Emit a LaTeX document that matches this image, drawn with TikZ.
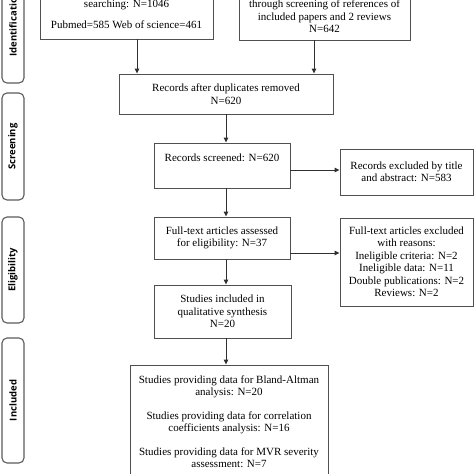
\documentclass[tikz,border=0pt]{standalone}
\usepackage{fontspec}
\setmainfont{Liberation Serif}
\newfontfamily\labfont{Open Sans}
\usetikzlibrary{arrows.meta}
\definecolor{boxgray}{HTML}{505050}
\definecolor{linegray}{HTML}{303030}
\definecolor{sidegray}{HTML}{5A5A5A}
\begin{document}
\begin{tikzpicture}[x=1pt,y=-1pt,
  box/.style={draw=boxgray, line width=0.9pt, inner sep=0pt, align=center,
    font=\fontsize{11}{12.5}\selectfont},
  txt/.style={inner sep=0pt, align=center, font=\fontsize{11}{12.5}\selectfont},
  side/.style={draw=sidegray, line width=1.1pt, rounded corners=5pt, rotate=90,
    inner sep=0pt, font=\labfont\bfseries\fontsize{9.5}{11}\selectfont},
  arr/.style={draw=linegray, line width=0.9pt, -{Triangle[length=5pt,width=4.5pt]}}]
\useasboundingbox (0,0) rectangle (474,474);
\clip (0,0) rectangle (474,474);

% side phase labels
\node[side, minimum width=118pt, minimum height=22pt] (sid) at (13,24) {Identification};
\node[side, minimum width=107pt, minimum height=22pt] (ssc) at (13,146.5) {Screening};
\node[side, minimum width=106pt, minimum height=22pt] (sel) at (13,270) {Eligibility};
\node[side, minimum width=125pt, minimum height=22pt] (sin) at (13,400.5) {Included};

% top boxes (cut at the top edge)
\node[box, minimum width=173pt, minimum height=79pt] (tl) at (126.5,-0.5) {};
\node[txt] (tltext) at (126.5,14.5) {searching: N=1046\\[8.5pt]Pubmed=585 Web of science=461};
\node[box, minimum width=171pt, minimum height=80pt] (tr) at (324.5,0) {};
\node[txt] (trtext) at (324.5,16.5) {through screening of references of\\included papers and 2 reviews\\N=642};

% main flow
\node[box, minimum width=214pt, minimum height=40pt] (dup) at (226,94)
  {Records after duplicates removed\\N=620};
\node[box, minimum width=136pt, minimum height=45pt] (scr) at (222,165.5)
  {Records screened: N=620\\\strut};
\node[box, minimum width=133pt, minimum height=46pt] (exc1) at (406.5,172)
  {Records excluded by title\\and abstract: N=583};
\node[box, minimum width=136pt, minimum height=42pt] (ftx) at (222,238)
  {Full-text articles assessed\\for eligibility: N=37};
\node[box, minimum width=133pt, minimum height=88pt] (exc2) at (406.5,262)
  {Full-text articles excluded\\with reasons:\\Ineligible criteria: N=2\\Ineligible data: N=11\\Double publications: N=2\\Reviews: N=2};
\node[box, minimum width=137pt, minimum height=53pt] (inc) at (222.5,311.5)
  {Studies included in\\qualitative synthesis\\N=20};
\node[box, minimum width=198pt, minimum height=113pt] (fin) at (229,421.5)
  {Studies providing data for Bland-Altman\\analysis: N=20\\[11pt]Studies providing data for correlation\\coefficients analysis: N=16\\[11pt]Studies providing data for MVR severity\\assessment: N=7};

% connectors
\draw[arr] ([xshift=10.5pt]tl.south) -- ([xshift=10.5pt]tl.south |- dup.north);
\draw[arr] ([xshift=-10.5pt]tr.south) -- ([xshift=-10.5pt]tr.south |- dup.north);
\draw[arr] (dup.south) -- (dup.south |- scr.north);
\draw[arr] (scr.south -| dup.south) -- (ftx.north -| dup.south);
\draw[arr] ([yshift=-4.5pt]scr.east) -- ([yshift=-4.5pt]scr.east -| exc1.west);
\draw[arr] ([yshift=-15pt]ftx.east) -- ([yshift=-15pt]ftx.east -| exc2.west);
\draw[arr] (ftx.south -| dup.south) -- (inc.north -| dup.south);
\draw[arr] (inc.south -| dup.south) -- (fin.north -| dup.south);
\end{tikzpicture}
\end{document}
